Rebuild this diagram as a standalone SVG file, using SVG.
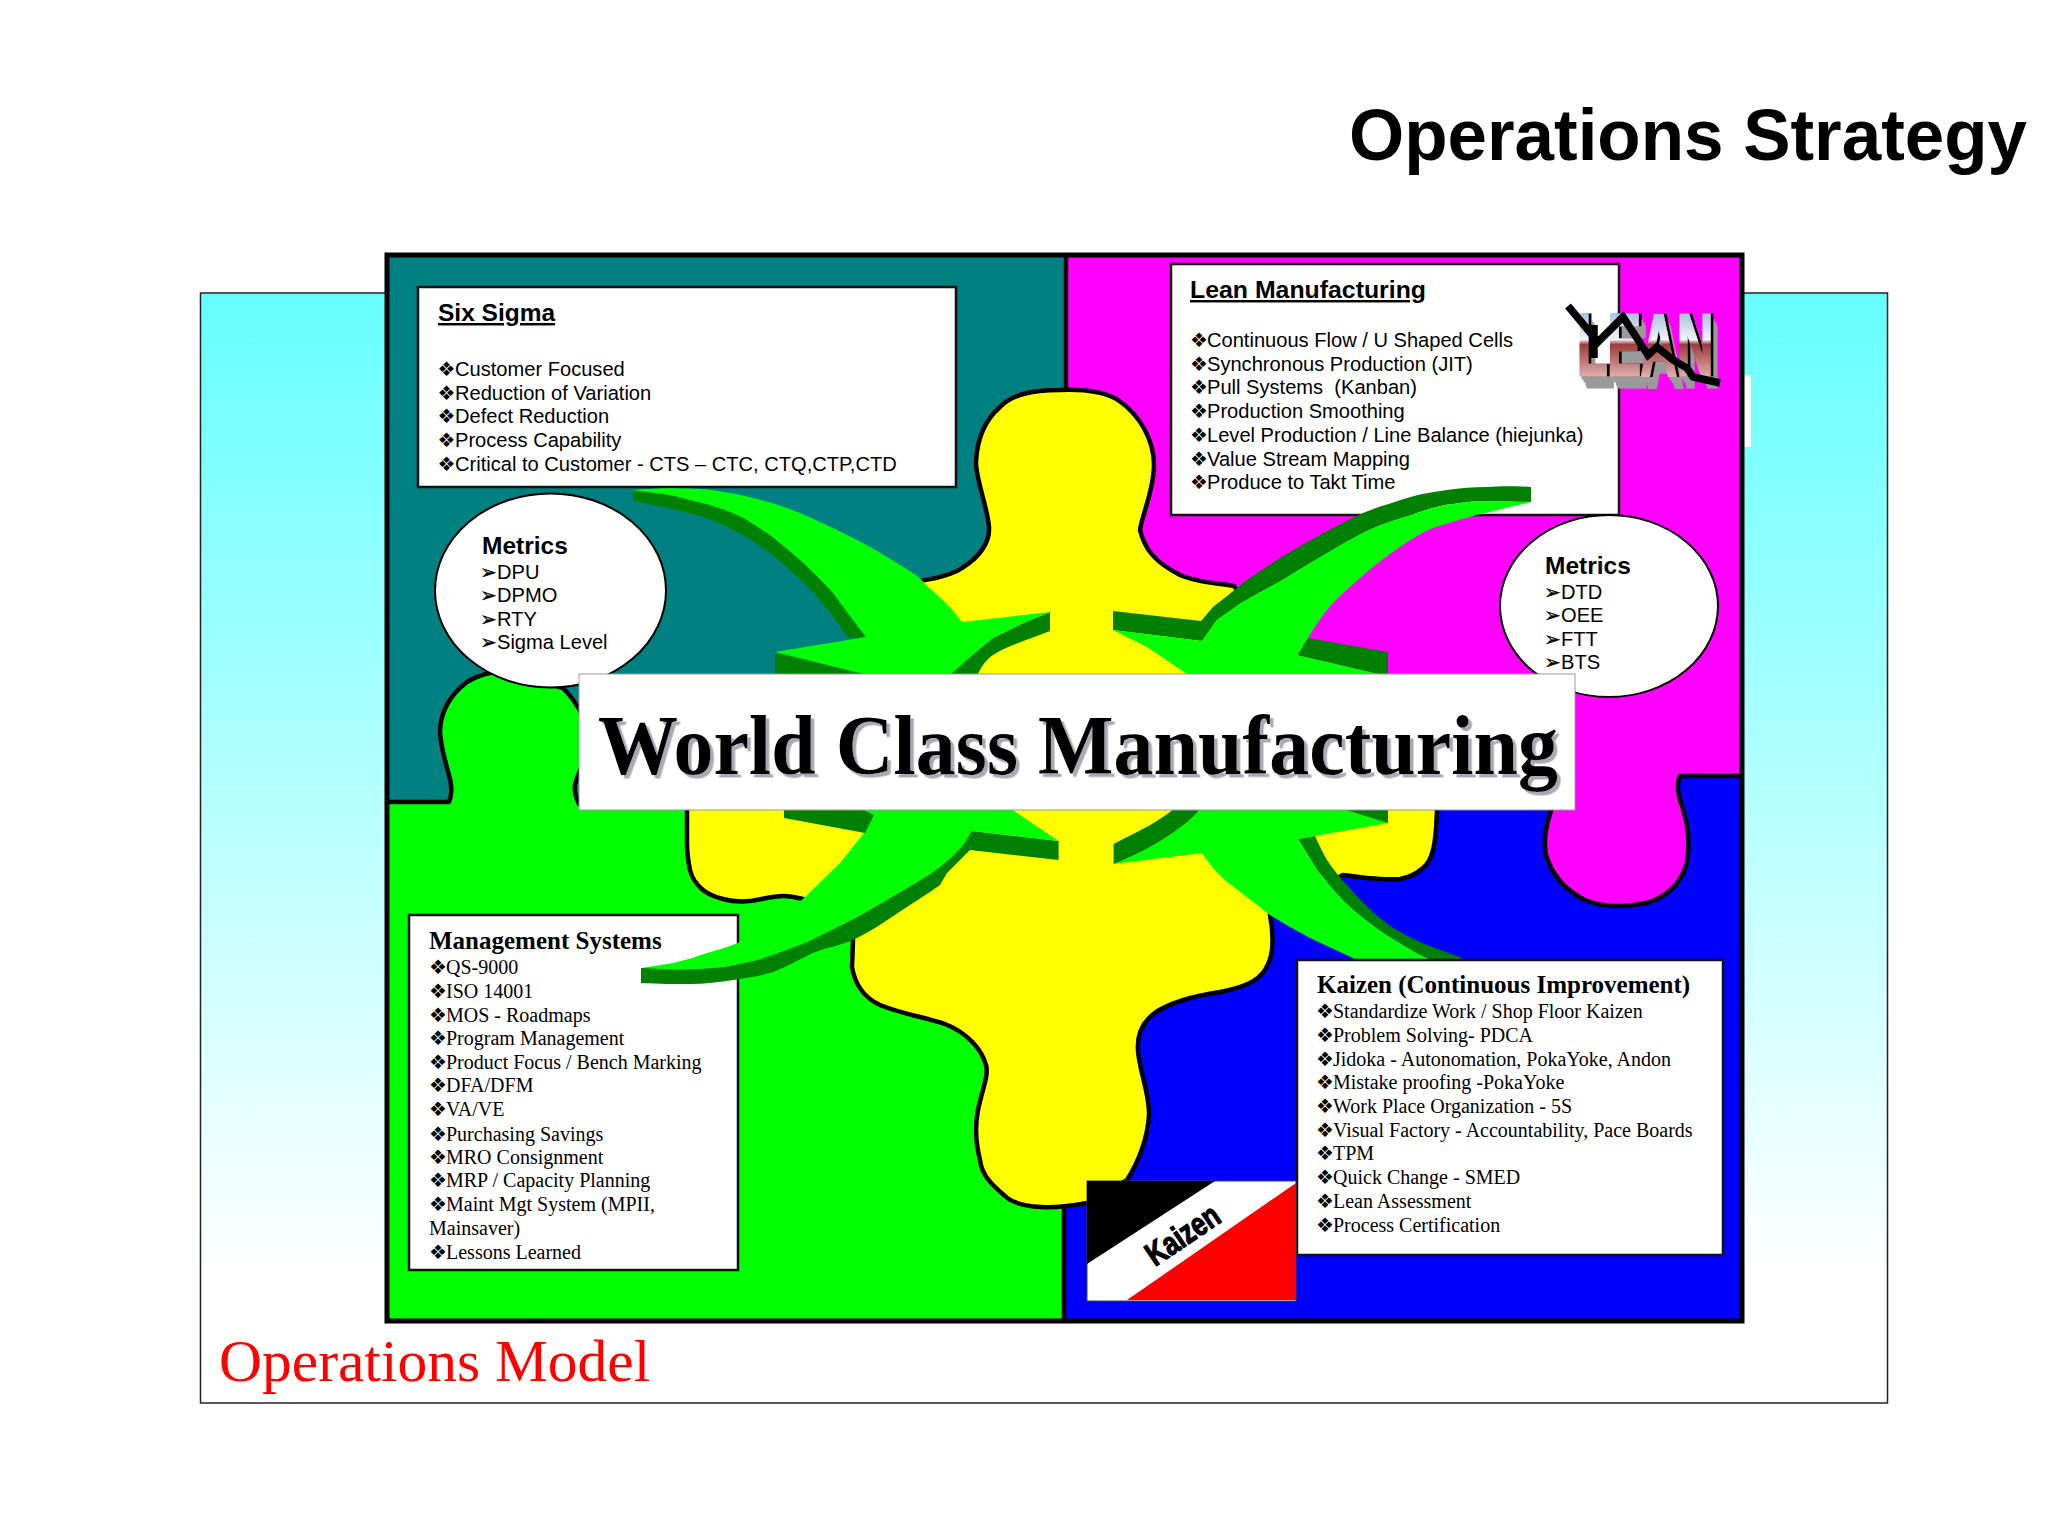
<svg xmlns="http://www.w3.org/2000/svg" width="2048" height="1536" viewBox="0 0 2048 1536">
<style>
.a{font-family:"Liberation Sans",Arial,sans-serif;font-size:20.1px;fill:#000}
.at{font-family:"Liberation Sans",Arial,sans-serif;font-size:24.5px;font-weight:700;fill:#000}
.t{font-family:"Liberation Serif","Times New Roman",serif;font-size:20px;fill:#000}
.tt{font-family:"Liberation Serif","Times New Roman",serif;font-size:25px;font-weight:700;fill:#000}
.b{font-family:"DejaVu Sans",sans-serif;font-size:20px}
.c{font-family:"DejaVu Sans",sans-serif;font-size:20px;stroke:#000;stroke-width:.3}
.box{fill:#fff;stroke:#111;stroke-width:2.5}
.circ{fill:#fff;stroke:#000;stroke-width:2}
.edge{fill:none;stroke:#000;stroke-width:4.5;stroke-linejoin:round;stroke-linecap:round}
.bright{fill:#00ff00}
.dark{fill:#008000}
</style>
<defs>
<linearGradient id="panel" x1="0" y1="0" x2="0" y2="1"><stop offset="0" stop-color="#66ffff"/><stop offset="0.88" stop-color="#fff"/></linearGradient>
<linearGradient id="chrome" x1="0" y1="0" x2="0" y2="1"><stop offset="0" stop-color="#7d9cc8"/><stop offset="0.45" stop-color="#f0f4fa"/><stop offset="0.5" stop-color="#9e3c3c"/><stop offset="0.95" stop-color="#f6dcd8"/><stop offset="1" stop-color="#fff"/></linearGradient>
<filter id="sh" x="-5%" y="-10%" width="110%" height="130%"><feDropShadow dx="3.5" dy="3.5" stdDeviation="0.6" flood-color="#a9a9b4"/></filter>
<filter id="ext" x="-10%" y="-10%" width="125%" height="135%">
<feOffset in="SourceAlpha" dx="2" dy="3" result="o1"/><feOffset in="SourceAlpha" dx="4" dy="6" result="o2"/><feOffset in="SourceAlpha" dx="6" dy="9" result="o3"/><feOffset in="SourceAlpha" dx="7" dy="12" result="o4"/>
<feMerge result="m"><feMergeNode in="o1"/><feMergeNode in="o2"/><feMergeNode in="o3"/><feMergeNode in="o4"/></feMerge>
<feFlood flood-color="#9a9a9a"/><feComposite in2="m" operator="in" result="g"/>
<feOffset in="SourceAlpha" dx="3" dy="0" result="s"/>
<feFlood flood-color="#000"/><feComposite in2="s" operator="in" result="k"/>
<feMerge><feMergeNode in="g"/><feMergeNode in="k"/><feMergeNode in="SourceGraphic"/></feMerge>
</filter>
</defs>
<rect width="2048" height="1536" fill="#fff"/>
<g id="title"><text x="1349" y="160" font-family="'Liberation Sans',Arial,sans-serif" font-weight="700" font-size="72" textLength="678" lengthAdjust="spacingAndGlyphs">Operations Strategy</text></g>
<g id="panel-bg">
<rect x="200.500" y="293" width="1687" height="1110" fill="url(#panel)" stroke="#222" stroke-width="1.500"/>
<rect x="1744" y="375" width="7" height="72" fill="#f4ffff"/>
<text x="219" y="1381" font-family="'Liberation Serif','Times New Roman',serif" font-size="59.500" fill="#ff0000">Operations Model</text>
</g>
<g id="quadrants">
<rect x="387" y="255" width="679" height="547" fill="#008080"/>
<rect x="1066" y="255" width="676" height="521" fill="#ff00ff"/>
<rect x="1064" y="776" width="678" height="545" fill="#0000ff"/>
<rect x="387" y="802" width="677" height="519" fill="#00ff00"/>
<path class="edge" d="M1066 255 V392 M1064 1205 V1321"/>
</g>
<g id="magenta-tab">
<path fill="#ff00ff" d="M1680 776 C1676 785 1678 795 1683 809 C1688 825 1690 845 1687 862 C1683 880 1670 895 1650 902 C1625 908 1605 908 1585 900 C1565 890 1552 875 1546 855 C1543 840 1546 825 1551 811 L1560 740 Z"/>
<path class="edge" d="M1742 776 L1680 776 C1676 785 1678 795 1683 809 C1688 825 1690 845 1687 862 C1683 880 1670 895 1650 902 C1625 908 1605 908 1585 900 C1565 890 1552 875 1546 855 C1543 840 1546 825 1551 811 L1555 790"/>
</g>
<g id="green-tab">
<path fill="#00ff00" d="M449 802 C452 795 452 785 449 775 C445 760 440 745 440 730 C441 712 450 695 467 682 C478 675 490 672 505 670 L563 688 C570 695 590 720 590 740 C590 755 578 770 575 785 C574 792 576 798 579 804 Z"/>
<path class="edge" d="M387 802 L449 802 C452 795 452 785 449 775 C445 760 440 745 440 730 C441 712 450 695 467 682 C478 675 490 672 505 670 L563 688 C570 695 590 720 590 740 C590 755 578 770 575 785 C574 792 576 798 579 804"/>
</g>
<g id="yellow-hub">
<path fill="#ffff00" stroke="#000" stroke-width="4.500" stroke-linejoin="round" d="M1060 390 C1085 389 1105 392 1118 400 C1140 415 1154 440 1154 465 C1154 490 1142 515 1140 530 C1145 550 1155 562 1180 575 C1195 582 1215 583 1234 586 L1300 674 L1437 780 L1437 811 L1436 830 C1435 840 1434 847 1433 850 C1431 858 1428 864 1423 868 C1415 875 1407 878 1400 879 C1390 880 1378 879 1367 878 L1343 875 L1270 915 C1272 925 1273 940 1272 950 C1271 958 1268 965 1265 970 C1258 981 1245 987 1220 992 C1200 995 1175 1000 1156 1012 C1142 1022 1137 1035 1138 1050 C1139 1070 1150 1095 1149 1115 C1148 1135 1140 1160 1127 1180 L1087 1203 C1070 1206 1050 1208 1041 1207 C1025 1206 1012 1203 1005 1196 C990 1183 982 1175 980 1160 C975 1140 975 1125 978 1110 C982 1090 989 1075 986 1065 C982 1050 968 1033 945 1024 C925 1017 905 1015 880 1005 C865 998 855 985 852 967 L853 940 L803 899 C795 897 790 896 783 896 C772 896 760 900 750 901 C740 902 730 901 723 899 C715 897 708 894 703 890 C695 883 692 878 690 870 C688 860 687 850 687 843 L687 720 L870 680 L880 600 L920 581 C945 577 955 573 962 568 C980 557 990 542 989 527 C987 505 976 480 976 462 C977 440 985 420 1000 407 C1012 395 1030 390 1060 390 Z"/>
</g>
<g id="frame">
<rect x="387" y="255" width="1355" height="1066" fill="none" stroke="#000" stroke-width="5"/>
</g>
<g id="six-sigma">
<rect class="box" x="418" y="287" width="538" height="200"/>
<text class="at" x="438" y="321" text-decoration="underline">Six Sigma</text>
<g class="a">
<text y="376"><tspan class="b" x="437.500">❖</tspan><tspan x="455">Customer Focused</tspan></text>
<text y="400"><tspan class="b" x="437.500">❖</tspan><tspan x="455">Reduction of Variation</tspan></text>
<text y="423"><tspan class="b" x="437.500">❖</tspan><tspan x="455">Defect Reduction</tspan></text>
<text y="447"><tspan class="b" x="437.500">❖</tspan><tspan x="455">Process Capability</tspan></text>
<text y="471"><tspan class="b" x="437.500">❖</tspan><tspan x="455">Critical to Customer - CTS – CTC, CTQ,CTP,CTD</tspan></text>
</g>
</g>
<g id="lean">
<rect class="box" x="1171" y="264" width="448" height="251"/>
<text class="at" x="1190" y="298" text-decoration="underline" textLength="236" lengthAdjust="spacingAndGlyphs">Lean Manufacturing</text>
<g class="a">
<text y="347"><tspan class="b" x="1190">❖</tspan><tspan x="1207">Continuous Flow / U Shaped Cells</tspan></text>
<text y="371"><tspan class="b" x="1190">❖</tspan><tspan x="1207">Synchronous Production (JIT)</tspan></text>
<text y="394"><tspan class="b" x="1190">❖</tspan><tspan x="1207">Pull Systems&#160; (Kanban)</tspan></text>
<text y="418"><tspan class="b" x="1190">❖</tspan><tspan x="1207">Production Smoothing</tspan></text>
<text y="442"><tspan class="b" x="1190">❖</tspan><tspan x="1207">Level Production / Line Balance (hiejunka)</tspan></text>
<text y="466"><tspan class="b" x="1190">❖</tspan><tspan x="1207">Value Stream Mapping</tspan></text>
<text y="489"><tspan class="b" x="1190">❖</tspan><tspan x="1207">Produce to Takt Time</tspan></text>
</g>
</g>
<g id="management">
<rect class="box" x="409" y="915" width="329" height="355"/>
<text class="tt" x="429" y="949">Management Systems</text>
<g class="t">
<text y="974"><tspan class="b" x="429">❖</tspan><tspan x="446">QS-9000</tspan></text>
<text y="998"><tspan class="b" x="429">❖</tspan><tspan x="446">ISO 14001</tspan></text>
<text y="1022"><tspan class="b" x="429">❖</tspan><tspan x="446">MOS - Roadmaps</tspan></text>
<text y="1045"><tspan class="b" x="429">❖</tspan><tspan x="446">Program Management</tspan></text>
<text y="1069"><tspan class="b" x="429">❖</tspan><tspan x="446">Product Focus / Bench Marking</tspan></text>
<text y="1092"><tspan class="b" x="429">❖</tspan><tspan x="446">DFA/DFM</tspan></text>
<text y="1116"><tspan class="b" x="429">❖</tspan><tspan x="446">VA/VE</tspan></text>
<text y="1141"><tspan class="b" x="429">❖</tspan><tspan x="446">Purchasing Savings</tspan></text>
<text y="1164"><tspan class="b" x="429">❖</tspan><tspan x="446">MRO Consignment</tspan></text>
<text y="1187"><tspan class="b" x="429">❖</tspan><tspan x="446">MRP / Capacity Planning</tspan></text>
<text y="1211"><tspan class="b" x="429">❖</tspan><tspan x="446">Maint Mgt System (MPII,</tspan></text>
<text x="429" y="1235">Mainsaver)</text>
<text y="1259"><tspan class="b" x="429">❖</tspan><tspan x="446">Lessons Learned</tspan></text>
</g>
</g>
<g id="connectors">
<g id="arm-top-left">
<path class="dark" d="M632.700 490 L633 501 C650 504 680 510 703 517 C715 521 725 525 733 530 C745 536 755 542 763 548 C775 556 785 565 793 573 C805 584 812 591 820 600 C826 607 832 615 837 622 L848 638 L866 637 L853 620 C846 611 840 602 833 593 C822 581 812 571 800 560 C790 551 780 543 770 535 C758 527 748 520 737 515 C728 511 720 508 710 505 C695 501 682 498 670 495 Z"/>
<path class="dark" d="M775 652 L775 676 L872 676 Z"/>
<path class="dark" d="M1050 612 L1050 631 L1013 645 C1005 648 997 652 990 657 C985 662 981 667 977 676 L949 676 C955 668 962 662 970 657 C978 650 985 644 993 638 L1023 623 Z"/>
<path class="bright" d="M632.700 490 C655 488 680 488 703 489 C720 491 735 493 753 498 C770 502 785 507 800 513 C816 520 832 527 847 535 C861 542 875 549 887 557 C899 564 910 571 920 578 L925 584 C940 597 952 608 962 622 L1050 612 L1023 623 C1013 628 1003 633 993 638 C985 644 978 650 970 657 L949 676 L872 676 L775 652 L866 637 L853 620 C846 611 840 602 833 593 C822 581 812 571 800 560 C790 551 780 543 770 535 C758 527 748 520 737 515 C728 511 720 508 710 505 C695 501 682 498 670 495 Z"/>
</g>
<g id="arm-top-right">
<path class="dark" d="M1531 487 C1515 486 1500 486 1487 487 C1473 487 1460 488 1447 490 C1433 492 1420 494 1407 498 C1392 503 1377 507 1363 513 C1348 520 1334 527 1320 535 C1306 543 1293 550 1280 558 C1268 566 1256 574 1244 582 C1232 592 1222 600 1213 607 L1201 621 L1113 611 L1113 630 L1202 641 L1217 620 L1244 601 C1258 593 1272 586 1287 577 C1303 567 1320 557 1337 547 C1351 539 1365 531 1380 525 C1393 520 1407 516 1420 512 C1431 508 1442 505 1453 504 C1465 502 1476 501 1487 501 L1531 502 Z"/>
<path class="bright" d="M1531 502 C1513 506 1495 511 1477 515 C1462 519 1447 523 1433 528 C1421 533 1410 540 1400 547 C1388 555 1377 563 1367 572 C1355 582 1344 592 1333 603 C1323 614 1315 626 1308 638 L1298 655 L1388 676 L1190 676 L1147 647 L1113 630 L1202 641 L1217 620 L1244 601 C1258 593 1272 586 1287 577 C1303 567 1320 557 1337 547 C1351 539 1365 531 1380 525 C1393 520 1407 516 1420 512 C1431 508 1442 505 1453 504 C1465 502 1476 501 1487 501 Z"/>
<path class="dark" d="M1308 638 L1388 652 L1388 676 L1298 655 Z"/>
</g>
<g id="arm-bottom-left">
<path class="dark" d="M641 968 L641 983 C660 984 675 984 690 984 C705 984 720 982 733 980 C747 978 760 976 773 972 C787 967 800 959 813 953 C828 947 843 945 857 938 C875 929 890 918 907 907 C918 900 930 892 940 885 L947 873 L970 850 L1058.600 860 L1058.600 841 L971.500 831 L940 867 L907 888 L857 917 L807 942 L757 960 L723 967 Z"/>
<path class="bright" d="M641 968 C652 966 663 965 673 963 C685 960 696 957 707 953 C717 950 728 947 738 943 L803 899 L840 863 L864 833 L784 800 L998 800 L1058.600 841 L971.500 831 C965 845 955 855 940 867 C930 875 918 881 907 888 C890 898 873 908 857 917 C840 926 823 934 807 942 C790 949 773 955 757 960 C745 963 733 965 723 967 C700 970 670 970 641 968 Z"/>
<path class="dark" d="M784 805 L853 805 L874 815 L865 833 L784 818 Z"/>
</g>
<g id="arm-bottom-right">
<path class="dark" d="M1298 839 L1315 836 C1319 845 1323 853 1327 860 C1333 869 1340 878 1347 885 C1355 894 1364 904 1373 912 C1382 920 1391 927 1400 932 C1409 937 1418 941 1427 945 L1462 958 L1462 965 L1427 965 L1427 958 C1418 954 1409 949 1400 943 C1390 937 1380 931 1370 923 C1361 916 1352 909 1343 900 C1334 890 1325 880 1317 870 Z"/>
<path class="bright" d="M1113.600 864 L1202 853 C1210 865 1220 877 1230 884 L1270 915 C1283 923 1297 931 1310 938 L1353 958 L1353 965 L1427 965 L1427 958 C1418 954 1409 949 1400 943 C1390 937 1380 931 1370 923 C1361 916 1352 909 1343 900 C1334 890 1325 880 1317 870 L1298 839 L1388 823 L1388 805 L1203 805 C1190 825 1150 850 1113.600 864 Z"/>
<path class="dark" d="M1113.600 844 C1140 830 1160 822 1178 805 L1203 805 C1190 825 1150 850 1113.600 864 Z"/>
<path class="dark" d="M1330 805 L1388 805 L1388 823 Z"/>
</g>
</g>
<g id="kaizen">
<rect class="box" x="1297" y="960" width="426" height="295"/>
<text class="tt" x="1317" y="992.500">Kaizen (Continuous Improvement)</text>
<g class="t">
<text y="1018"><tspan class="b" x="1316">❖</tspan><tspan x="1333">Standardize Work / Shop Floor Kaizen</tspan></text>
<text y="1042"><tspan class="b" x="1316">❖</tspan><tspan x="1333">Problem Solving- PDCA</tspan></text>
<text y="1066"><tspan class="b" x="1316">❖</tspan><tspan x="1333">Jidoka - Autonomation, PokaYoke, Andon</tspan></text>
<text y="1089"><tspan class="b" x="1316">❖</tspan><tspan x="1333">Mistake proofing -PokaYoke</tspan></text>
<text y="1113"><tspan class="b" x="1316">❖</tspan><tspan x="1333">Work Place Organization - 5S</tspan></text>
<text y="1137"><tspan class="b" x="1316">❖</tspan><tspan x="1333">Visual Factory - Accountability, Pace Boards</tspan></text>
<text y="1160"><tspan class="b" x="1316">❖</tspan><tspan x="1333">TPM</tspan></text>
<text y="1184"><tspan class="b" x="1316">❖</tspan><tspan x="1333">Quick Change - SMED</tspan></text>
<text y="1208"><tspan class="b" x="1316">❖</tspan><tspan x="1333">Lean Assessment</tspan></text>
<text y="1232"><tspan class="b" x="1316">❖</tspan><tspan x="1333">Process Certification</tspan></text>
</g>
</g>
<g id="kaizen-flag">
<rect x="1087" y="1181" width="209" height="120" fill="#fff" stroke="#444" stroke-width="1"/>
<path fill="#000" d="M1087 1181 H1215 L1087 1264 Z"/>
<path fill="#ff0000" d="M1296 1183 L1127 1300 H1296 Z"/>
<text transform="translate(1155 1267) rotate(-34)" font-family="'Liberation Sans',Arial,sans-serif" font-weight="700" font-size="33" stroke="#000" stroke-width="1.300" textLength="82" lengthAdjust="spacingAndGlyphs">Kaizen</text>
</g>
<g id="lean-logo">
<text x="1577" y="375" font-family="'Liberation Sans',Arial,sans-serif" font-weight="700" font-size="88" fill="url(#chrome)" stroke="url(#chrome)" stroke-width="3" filter="url(#ext)" textLength="136" lengthAdjust="spacingAndGlyphs">LEAN</text>
<path fill="none" stroke="#000" stroke-width="7.500" d="M1594 325 V358 M1568 306 L1598 342 L1623 317 L1648 355 L1657 347 L1673 360 L1687 368 L1693 377 L1720 383"/>
</g>
<g id="metrics-left">
<ellipse class="circ" cx="550.500" cy="590.500" rx="115.500" ry="97"/>
<text class="at" x="482" y="554">Metrics</text>
<g class="a">
<text y="579"><tspan class="c" x="480">➢</tspan><tspan x="497">DPU</tspan></text>
<text y="602"><tspan class="c" x="480">➢</tspan><tspan x="497">DPMO</tspan></text>
<text y="626"><tspan class="c" x="480">➢</tspan><tspan x="497">RTY</tspan></text>
<text y="649"><tspan class="c" x="480">➢</tspan><tspan x="497">Sigma Level</tspan></text>
</g>
</g>
<g id="metrics-right">
<ellipse class="circ" cx="1609" cy="606" rx="109" ry="91"/>
<text class="at" x="1545" y="574">Metrics</text>
<g class="a">
<text y="599"><tspan class="c" x="1544">➢</tspan><tspan x="1561">DTD</tspan></text>
<text y="622"><tspan class="c" x="1544">➢</tspan><tspan x="1561">OEE</tspan></text>
<text y="646"><tspan class="c" x="1544">➢</tspan><tspan x="1561">FTT</tspan></text>
<text y="669"><tspan class="c" x="1544">➢</tspan><tspan x="1561">BTS</tspan></text>
</g>
</g>
<g id="world-class">
<rect x="579" y="674" width="996" height="136" fill="#fff" stroke="#999" stroke-width="1"/>
<text x="598" y="774" font-family="'Liberation Serif','Times New Roman',serif" font-weight="700" font-size="84" textLength="960" lengthAdjust="spacingAndGlyphs" filter="url(#sh)">World Class Manufacturing</text>
</g>
</svg>
